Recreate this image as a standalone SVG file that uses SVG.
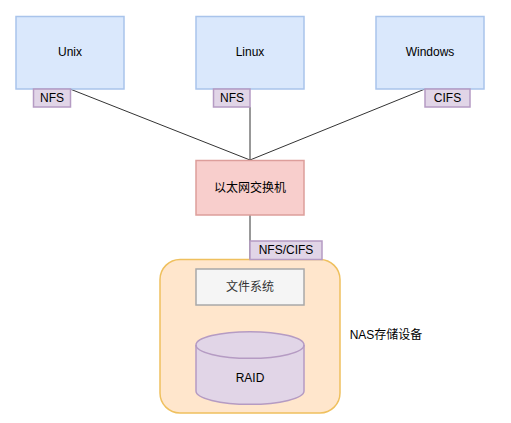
<svg xmlns="http://www.w3.org/2000/svg" width="511" height="423" viewBox="0 0 511 423">
<style>
text{font-family:"Liberation Sans",Arial,"Noto Sans CJK SC",sans-serif;font-size:12px;fill:#000;text-anchor:middle;dominant-baseline:central}
.host{fill:#dae8fc;stroke:#a9c4eb;stroke-width:1.5}
.tag{fill:#e1d5e7;stroke:#b59bc3;stroke-width:1.5}
.edge{stroke:#333;stroke-width:1;fill:none}
</style>
<rect width="511" height="423" fill="#fff"/>
<g id="connectors">
<line class="edge" x1="70" y1="89" x2="250" y2="160"/>
<line class="edge" x1="250" y1="107" x2="250" y2="160"/>
<line class="edge" x1="425" y1="89" x2="250" y2="160"/>
<line class="edge" x1="250" y1="215" x2="250" y2="260"/>
</g>
<g id="unix"><rect class="host" x="16" y="16.5" width="108" height="72.5"/><text x="70" y="52">Unix</text></g>
<g id="linux"><rect class="host" x="196" y="16.5" width="108" height="72.5"/><text x="250" y="52">Linux</text></g>
<g id="windows"><rect class="host" x="376" y="16.5" width="108" height="72.5"/><text x="430" y="52">Windows</text></g>
<g id="nfs-unix"><rect class="tag" x="33.5" y="89" width="37" height="18"/><text x="52" y="98">NFS</text></g>
<g id="nfs-linux"><rect class="tag" x="213.5" y="89" width="36.5" height="18"/><text x="232" y="98">NFS</text></g>
<g id="cifs-windows"><rect class="tag" x="425" y="89" width="45" height="18"/><text x="447.5" y="98">CIFS</text></g>
<g id="switch"><rect x="196" y="160.5" width="108" height="54.5" fill="#f8cecc" stroke="#dd9e9b" stroke-width="1.5"/><text x="250" y="187.5">以太网交换机</text></g>
<g id="nas"><rect x="160" y="259.5" width="180" height="153.5" rx="20" ry="20" fill="#ffe6cc" stroke="#efc05e" stroke-width="1.5"/><text x="386" y="335">NAS存储设备</text></g>
<g id="nfs-cifs"><rect class="tag" x="250" y="241" width="72" height="18.5"/><text x="286" y="250">NFS/CIFS</text></g>
<g id="filesystem"><rect x="196" y="269" width="108" height="36" fill="#f5f5f5" stroke="#a8a8a8" stroke-width="1.5"/><text x="250" y="287" fill="#333" style="fill:#333">文件系统</text></g>
<g id="raid">
<path d="M196,345 A54,13.3 0 0 1 304,345 L304,391 A54,13.3 0 0 1 196,391 Z" fill="#e1d5e7" stroke="#b59bc3" stroke-width="1.5"/>
<path d="M196,345 A54,13.3 0 0 0 304,345" fill="none" stroke="#b59bc3" stroke-width="1.5"/>
<text x="250" y="378">RAID</text>
</g>
</svg>
